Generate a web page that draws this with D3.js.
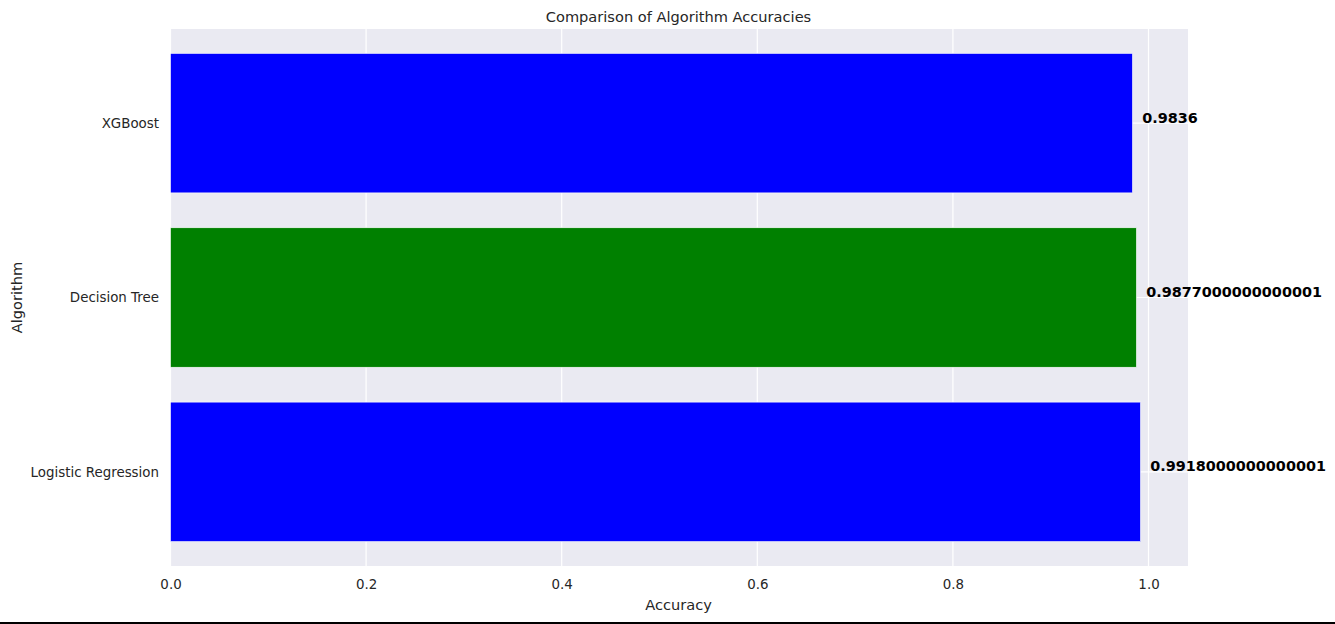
<!DOCTYPE html>
<html>
<head>
<meta charset="utf-8">
<script src="https://cdn.jsdelivr.net/npm/d3@7"></script>
<style>
  html, body { margin: 0; padding: 0; background: #ffffff; }
  svg { display: block; font-family: "DejaVu Sans", sans-serif; }
</style>
</head>
<body>
<svg id="chart" width="1335" height="624"></svg>
<script>
const algorithms = ["Logistic Regression", "Decision Tree", "XGBoost"];
const accuracies = [0.9918000000000001, 0.9877000000000001, 0.9836];
const barColors = ["blue", "green", "blue"];
const valueLabels = ["0.9918000000000001", "0.9877000000000001", "0.9836"];
const xTicks = [0.0, 0.2, 0.4, 0.6, 0.8, 1.0];

(function () {
  const svg = d3.select("#chart");
  const W = 1335;
  const pL = 171, pR = 1188, pT = 29, pB = 566;

  const x = d3.scaleLinear().domain([0, 1.04]).range([170.5, 170.5 + 1.04 * 978]);
  const y = d3.scaleLinear().domain([-0.54, 2.54]).range([pB, pT]);

  // background
  svg.append("rect").attr("x", pL).attr("y", pT)
    .attr("width", pR - pL).attr("height", pB - pT)
    .attr("fill", "#EAEAF2");

  // vertical grid
  svg.append("g").selectAll("line").data(xTicks).join("line")
    .attr("x1", d => x(d)).attr("x2", d => x(d))
    .attr("y1", pT).attr("y2", pB)
    .attr("stroke", "#ffffff").attr("stroke-width", 1.2);

  // horizontal grid at category centers
  svg.append("g").selectAll("line").data(algorithms).join("line")
    .attr("x1", pL).attr("x2", pR)
    .attr("y1", (d, i) => y(i)).attr("y2", (d, i) => y(i))
    .attr("stroke", "#ffffff").attr("stroke-width", 1.2);

  // bars
  svg.append("g").selectAll("rect").data(accuracies).join("rect")
    .attr("x", x(0))
    .attr("y", (d, i) => y(i + 0.4))
    .attr("width", d => x(d) - x(0))
    .attr("height", (d, i) => y(i - 0.4) - y(i + 0.4))
    .attr("fill", (d, i) => barColors[i])
    .attr("stroke", "#ffffff").attr("stroke-width", 0.6);

  // value labels
  svg.append("g").selectAll("text").data(accuracies).join("text")
    .attr("x", d => x(d + 0.01))
    .attr("y", (d, i) => y(i))
    .attr("dy", "-0.03em")
    .attr("font-size", 14.4).attr("font-weight", "bold").attr("fill", "#000")
    .text((d, i) => valueLabels[i]);

  // x axis
  const xAxis = d3.axisBottom(x).tickValues(xTicks).tickFormat(d3.format(".1f")).tickSize(0).tickPadding(13);
  const gx = svg.append("g").attr("transform", `translate(0, ${pB})`).call(xAxis);
  gx.select(".domain").remove();
  gx.selectAll("text").attr("font-size", 13.4).attr("fill", "#262626").attr("font-family", "DejaVu Sans");

  // y axis
  const yAxis = d3.axisLeft(y).tickValues([0, 1, 2]).tickFormat(i => algorithms[i]).tickSize(0).tickPadding(12);
  const gy = svg.append("g").attr("transform", `translate(${pL}, 0)`).call(yAxis);
  gy.select(".domain").remove();
  gy.selectAll("text").attr("font-size", 13.4).attr("fill", "#262626").attr("font-family", "DejaVu Sans");

  // axis labels
  svg.append("text").attr("x", (pL + pR) / 2 - 1).attr("y", 604)
    .attr("text-anchor", "middle").attr("dominant-baseline", "central")
    .attr("font-size", 14.6).attr("fill", "#262626").text("Accuracy");

  svg.append("text")
    .attr("transform", `translate(16, ${(pT + pB) / 2}) rotate(-90)`)
    .attr("text-anchor", "middle").attr("dominant-baseline", "central")
    .attr("font-size", 14.6).attr("fill", "#262626").text("Algorithm");

  // title
  svg.append("text").attr("x", (pL + pR) / 2 - 1).attr("y", 16)
    .attr("text-anchor", "middle").attr("dominant-baseline", "central")
    .attr("font-size", 14.6).attr("fill", "#262626").text("Comparison of Algorithm Accuracies");

  // bottom border line
  svg.append("rect").attr("x", 0).attr("y", 622).attr("width", W).attr("height", 2).attr("fill", "#000");
})();
</script>
</body>
</html>
